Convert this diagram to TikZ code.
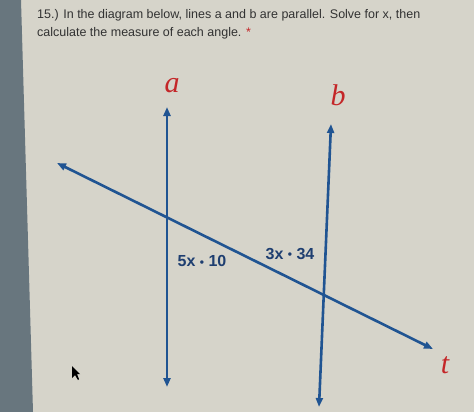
\documentclass[tikz,border=0pt]{standalone}
\usepackage{fontspec}
\setmainfont{Liberation Sans}
\newfontfamily\handfont{Liberation Serif}
\usetikzlibrary{arrows.meta,positioning}
\definecolor{paper}{RGB}{214,212,202}
\definecolor{band}{RGB}{104,118,126}
\definecolor{lineblue}{RGB}{32,84,146}
\definecolor{inkblue}{RGB}{30,62,112}
\definecolor{inkred}{RGB}{196,38,40}
\definecolor{qtext}{RGB}{50,50,50}

\begin{document}
\begin{tikzpicture}[
    x=1pt,y=-1pt,
    inner sep=1pt,
    bline/.style={draw=lineblue,line width=2.6pt},
    lname/.style={text=inkred,font=\handfont\itshape\fontsize{30}{30}\selectfont},
    alabel/.style={text=inkblue,font=\bfseries\fontsize{16}{16}\selectfont},
    >={Triangle[length=9pt,width=7pt]},
    ]
    \useasboundingbox (0,0) rectangle (474,412);
    \fill[paper] (0,0) rectangle (474,412);
    \fill[band] (0,0) -- (21,0) -- (33,412) -- (0,412) -- cycle;
    % question
    \node[anchor=north west,align=left,text=qtext,
        font=\fontsize{12.5}{18}\selectfont] (q) at (36,8)
        {15.) In the diagram below, lines a and b are parallel. Solve for x, then\\
         calculate the measure of each angle. \textcolor{inkred}{*}};
    % end points of the lines
    \coordinate (atop) at (167,107);
    \coordinate (abot) at (167,387);
    \coordinate (btop) at (331,124);
    \coordinate (bbot) at (319,407);
    \coordinate (tl) at (57,163);
    \coordinate (tr) at (433,349);
    \draw[bline,<->] (abot) -- (atop);
    \draw[bline,<->] (bbot) -- (btop);
    \draw[bline,<->] (tl) -- (tr);
    % line names
    \node[lname] (na) at (172,86) {a};
    \node[lname] (nb) at (338,95) {b};
    \node[lname] (nt) at (445,365) {t};
    % angles
    \node[alabel] (ang1) at (202,261) {5x {\fontsize{12}{12}\selectfont\raisebox{0.5pt}{\textbullet}} 10};
    \node[alabel] (ang2) at (290,254) {3x {\fontsize{12}{12}\selectfont\raisebox{0.5pt}{\textbullet}} 34};
    % cursor
    \fill[black] (72,366) -- (72,378) -- (75,375) -- (78,380) -- (79,379)
        -- (77,374) -- (80,374) -- cycle;
\end{tikzpicture}
\end{document}
